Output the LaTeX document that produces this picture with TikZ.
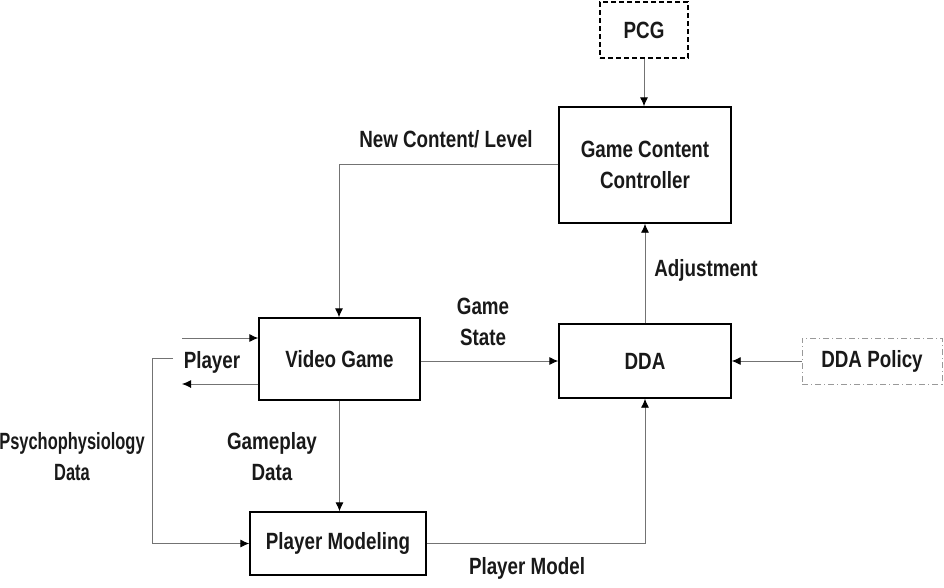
\documentclass[tikz,border=0pt]{standalone}
\usepackage{fontspec}
\setmainfont[FakeStretch=0.8]{Liberation Sans}
\newfontfamily\narrowfont[FakeStretch=0.7]{Liberation Sans}
\usetikzlibrary{arrows.meta}
\begin{document}
\begin{tikzpicture}[x=1pt,y=-1pt,
  every node/.style={font=\fontsize{23.5}{31}\selectfont\bfseries, text=black!90, align=center},
  box/.style={draw=black, line width=1.4pt, inner sep=0pt},
  conn/.style={draw=black!55, line width=0.9pt, -{Latex[length=9pt,width=8pt,color=black]}},
  lbl/.style={inner sep=0pt}]
\useasboundingbox (0,0) rectangle (944,587);
\node[box, dashed, dash pattern=on 5pt off 3pt, minimum width=88pt, minimum height=56pt] (pcg) at (644,30) {PCG};
\node[box, minimum width=172pt, minimum height=116pt] (gcc) at (645,165) {Game Content\\Controller};
\node[box, minimum width=172pt, minimum height=74pt] (dda) at (645,361) {DDA};
\node[box, draw=black!40, line width=1pt, dash pattern=on 6pt off 3pt on 1pt off 3pt, minimum width=140pt, minimum height=46pt] (pol) at (872,361) {DDA Policy};
\node[box, minimum width=161pt, minimum height=82pt] (vg) at (339.5,359) {Video Game};
\node[box, minimum width=176pt, minimum height=63pt] (pm) at (338,543.5) {Player Modeling};
% labels
\node[lbl] (lnew) at (446,139) {New Content/ Level};
\node[lbl] (ladj) at (706,270) {Adjustment};
\node[lbl] (lgs) at (483,322) {Game\\State};
\node[lbl] (lplayer) at (212,362) {Player};
\node[lbl] (lgd) at (272,457) {Gameplay\\Data};
\node[lbl, font=\fontsize{23.5}{31}\narrowfont\bfseries] (lpsy) at (72,457) {Psychophysiology\\Data};
\node[lbl] (lpm) at (527,568) {Player Model};
% connectors
\draw[conn] (pcg.south) -- (gcc.north -| pcg.south);
\draw[conn] (dda.north) -- (gcc.south);
\draw[conn] (pol.west) -- (dda.east);
\coordinate (nc) at (339,164);
\draw[conn] (gcc.west |- nc) -- (nc) -- (nc |- vg.north);
\draw[conn] (dda.west -| vg.east) -- (dda.west);
\draw[conn] (vg.south) -- (vg.south |- pm.north);
\coordinate (pin) at (182,338);
\coordinate (pout) at (182,384);
\draw[conn] (pin) -- (pin -| vg.west);
\draw[conn] (pout -| vg.west) -- (pout);
\coordinate (ps1) at (173,358);
\coordinate (ps2) at (152,358);
\draw[conn] (ps1) -- (ps2) |- (pm.west);
\draw[conn] (pm.east) -| (dda.south);
\end{tikzpicture}
\end{document}
